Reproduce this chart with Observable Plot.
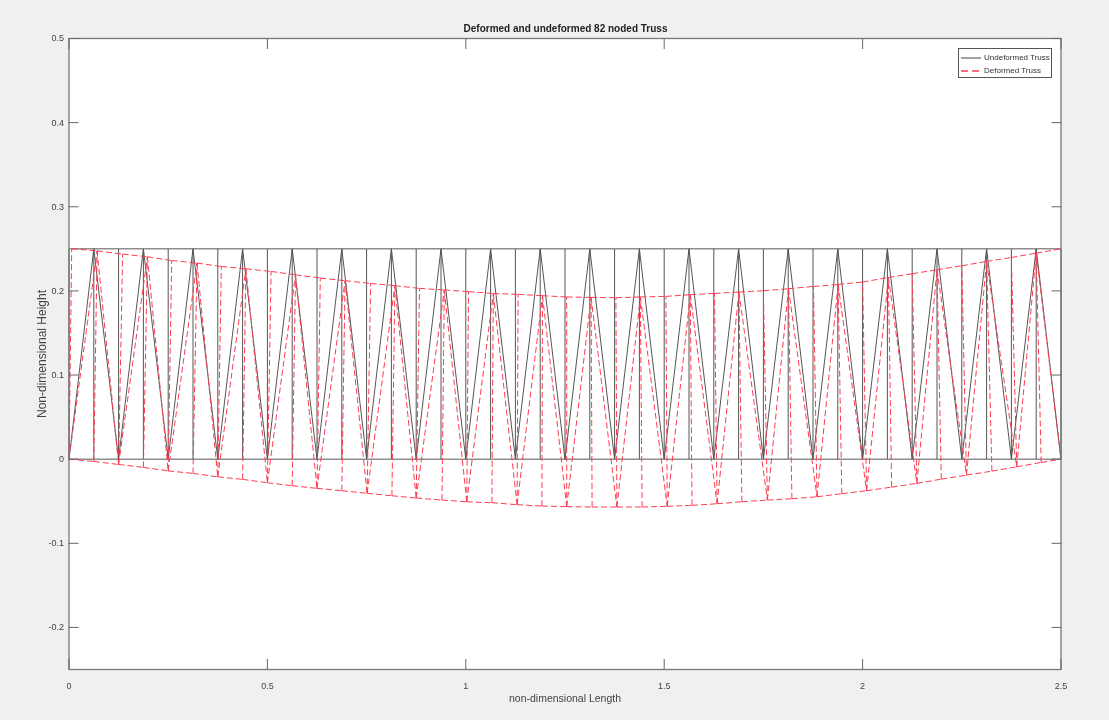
<!DOCTYPE html>
<html>
<head>
<meta charset="utf-8">
<script src="https://cdn.jsdelivr.net/npm/d3@7"></script>
<script src="https://cdn.jsdelivr.net/npm/@observablehq/plot@0.6"></script>
<style>
  html, body { margin: 0; padding: 0; background: #ffffff; }
  #page { position: relative; width: 1109px; height: 720px; background: #f0f0f0; overflow: hidden; font-family: "Liberation Sans", Arial, sans-serif; filter: blur(0.4px); }
  #page svg.plot { display: block; background: transparent !important; }
  #title { position: absolute; left: 0; width: 1131px; top: 23px; text-align: center; font-size: 10px; line-height: 12px; font-weight: bold; color: #222; }
  #legend { position: absolute; left: 958px; top: 48px; width: 94px; height: 30px; box-sizing: border-box; background: #fff; border: 1px solid #555; font-size: 8px; color: #333; }
  #legend div { position: absolute; left: 2px; height: 11px; line-height: 11px; white-space: nowrap; display: flex; align-items: center; }
  #legend svg { width: 20px; height: 4px; margin-right: 3px; }
</style>
</head>
<body>
<div id="page">
  <div id="chart"></div>
  <div id="title">Deformed and undeformed 82 noded Truss</div>
  <div id="legend">
    <div style="top:3px"><svg><line x1="0" x2="20" y1="2" y2="2" stroke="#444" stroke-width="1"/></svg>Undeformed Truss</div>
    <div style="top:16px"><svg><line x1="0" x2="20" y1="2" y2="2" stroke="#ff3b50" stroke-width="1.5" stroke-dasharray="7,4"/></svg>Deformed Truss</div>
  </div>
</div>
<script>
const nodeX = [0,0.0625,0.125,0.1875,0.25,0.3125,0.375,0.4375,0.5,0.5625,0.625,0.6875,0.75,0.8125,0.875,0.9375,1,1.0625,1.125,1.1875,1.25,1.3125,1.375,1.4375,1.5,1.5625,1.625,1.6875,1.75,1.8125,1.875,1.9375,2,2.0625,2.125,2.1875,2.25,2.3125,2.375,2.4375,2.5];
const topHeight = 0.25;
const bottomHeight = 0;

const deformedTopX = [0.0068,0.0708,0.1351,0.1976,0.2588,0.3226,0.3838,0.4458,0.5093,0.5708,0.6333,0.6958,0.7601,0.8213,0.8833,0.9458,1.0068,1.0693,1.1318,1.1933,1.2543,1.3158,1.3783,1.44,1.5043,1.5658,1.6268,1.6883,1.75,1.8133,1.8763,1.9383,2,2.065,2.125,2.1875,2.25,2.3125,2.375,2.4375,2.5];
const deformedTopY = [0.25,0.2476,0.2437,0.2405,0.2361,0.2331,0.229,0.2263,0.2231,0.2192,0.2153,0.2121,0.2089,0.2062,0.203,0.2011,0.1991,0.197,0.1959,0.1943,0.1928,0.1923,0.1919,0.1928,0.1935,0.1955,0.197,0.1987,0.2002,0.2026,0.2053,0.2077,0.2105,0.216,0.2204,0.2251,0.2299,0.235,0.2397,0.2449,0.25];
const deformedBottomX = [0,0.0625,0.125,0.1875,0.25,0.3125,0.375,0.4375,0.5,0.5625,0.625,0.6875,0.7513,0.8138,0.875,0.94,1.0025,1.0658,1.1293,1.1918,1.2543,1.3183,1.3808,1.4443,1.5076,1.5701,1.6333,1.6958,1.7601,1.8218,1.8851,1.9476,2.0101,2.0733,2.1368,2.1983,2.2618,2.3259,2.3884,2.4501,2.5];
const deformedBottomY = [0,-0.0027,-0.0063,-0.0098,-0.0139,-0.0169,-0.021,-0.024,-0.028,-0.0316,-0.0347,-0.0375,-0.0406,-0.0435,-0.0462,-0.0486,-0.0506,-0.0518,-0.0541,-0.0557,-0.0565,-0.0569,-0.0569,-0.0569,-0.056,-0.0549,-0.053,-0.0506,-0.0486,-0.047,-0.0447,-0.041,-0.0375,-0.0332,-0.0288,-0.0237,-0.019,-0.0142,-0.0091,-0.0039,0];

const xTicks = [0,0.5,1,1.5,2,2.5];
const yTicks = [-0.2,-0.1,0,0.1,0.2,0.3,0.4,0.5];

// Truss connectivity: top chord, bottom chord, verticals and zig-zag diagonals
function members(tx, ty, bx, by) {
  const out = [];
  const n = tx.length;
  for (let i = 0; i < n; i++) {
    out.push({x1: bx[i], y1: by[i], x2: tx[i], y2: ty[i]});
    if (i < n - 1) {
      out.push({x1: tx[i], y1: ty[i], x2: tx[i + 1], y2: ty[i + 1]});
      out.push({x1: bx[i], y1: by[i], x2: bx[i + 1], y2: by[i + 1]});
      if (i % 2 === 0) out.push({x1: bx[i], y1: by[i], x2: tx[i + 1], y2: ty[i + 1]});
      else out.push({x1: tx[i], y1: ty[i], x2: bx[i + 1], y2: by[i + 1]});
    }
  }
  return out;
}
const undeformed = members(nodeX, nodeX.map(() => topHeight), nodeX, nodeX.map(() => bottomHeight));
const deformed = members(deformedTopX, deformedTopY, deformedBottomX, deformedBottomY);

const axisStyle = {stroke: "#666", strokeWidth: 1, fontSize: 9, fontFamily: "Liberation Sans, Arial, sans-serif", fill: "#444"};
const chart = Plot.plot({
  width: 1109,
  height: 720,
  marginLeft: 68.5,
  marginRight: 48.5,
  marginTop: 38,
  marginBottom: 51,
  style: {background: "transparent", fontFamily: "Liberation Sans, Arial, sans-serif"},
  x: {domain: [0, 2.5]},
  y: {domain: [-0.25, 0.5]},
  marks: [
    Plot.frame({fill: "#ffffff", stroke: "none"}),
    Plot.link(undeformed, {x1: "x1", y1: "y1", x2: "x2", y2: "y2", stroke: "#555", strokeWidth: 1}),
    Plot.link(deformed, {x1: "x1", y1: "y1", x2: "x2", y2: "y2", stroke: "#ff3b50", strokeWidth: 1, strokeDasharray: "6,3", clip: true}),
    Plot.frame({stroke: "#777", strokeWidth: 1.3}),
    Plot.axisX({ticks: xTicks, tickSize: -10, tickPadding: 23, tickFormat: d => String(d), label: "non-dimensional Length", labelAnchor: "center", labelOffset: 32, labelArrow: "none", ...axisStyle}),
    Plot.axisX({anchor: "top", ticks: xTicks, tickSize: -10, tickFormat: () => "", label: null, stroke: "#666"}),
    Plot.axisY({ticks: yTicks, tickSize: -10, tickPadding: 15, tickFormat: d => String(d), label: null, ...axisStyle}),
    Plot.axisY({anchor: "right", ticks: yTicks, tickSize: -10, tickFormat: () => "", label: null, stroke: "#666"}),
    Plot.text(["Non-dimensional Height"], {frameAnchor: "left", dx: -27, rotate: -90, fontSize: 12, fill: "#444", textAnchor: "middle"})
  ]
});
document.getElementById("chart").appendChild(chart);
// x-axis title carries its own size, matching the reference's wider label
chart.querySelectorAll("text").forEach(t => { if (t.textContent === "non-dimensional Length") t.style.fontSize = "10.5px"; });
</script>
</body>
</html>
